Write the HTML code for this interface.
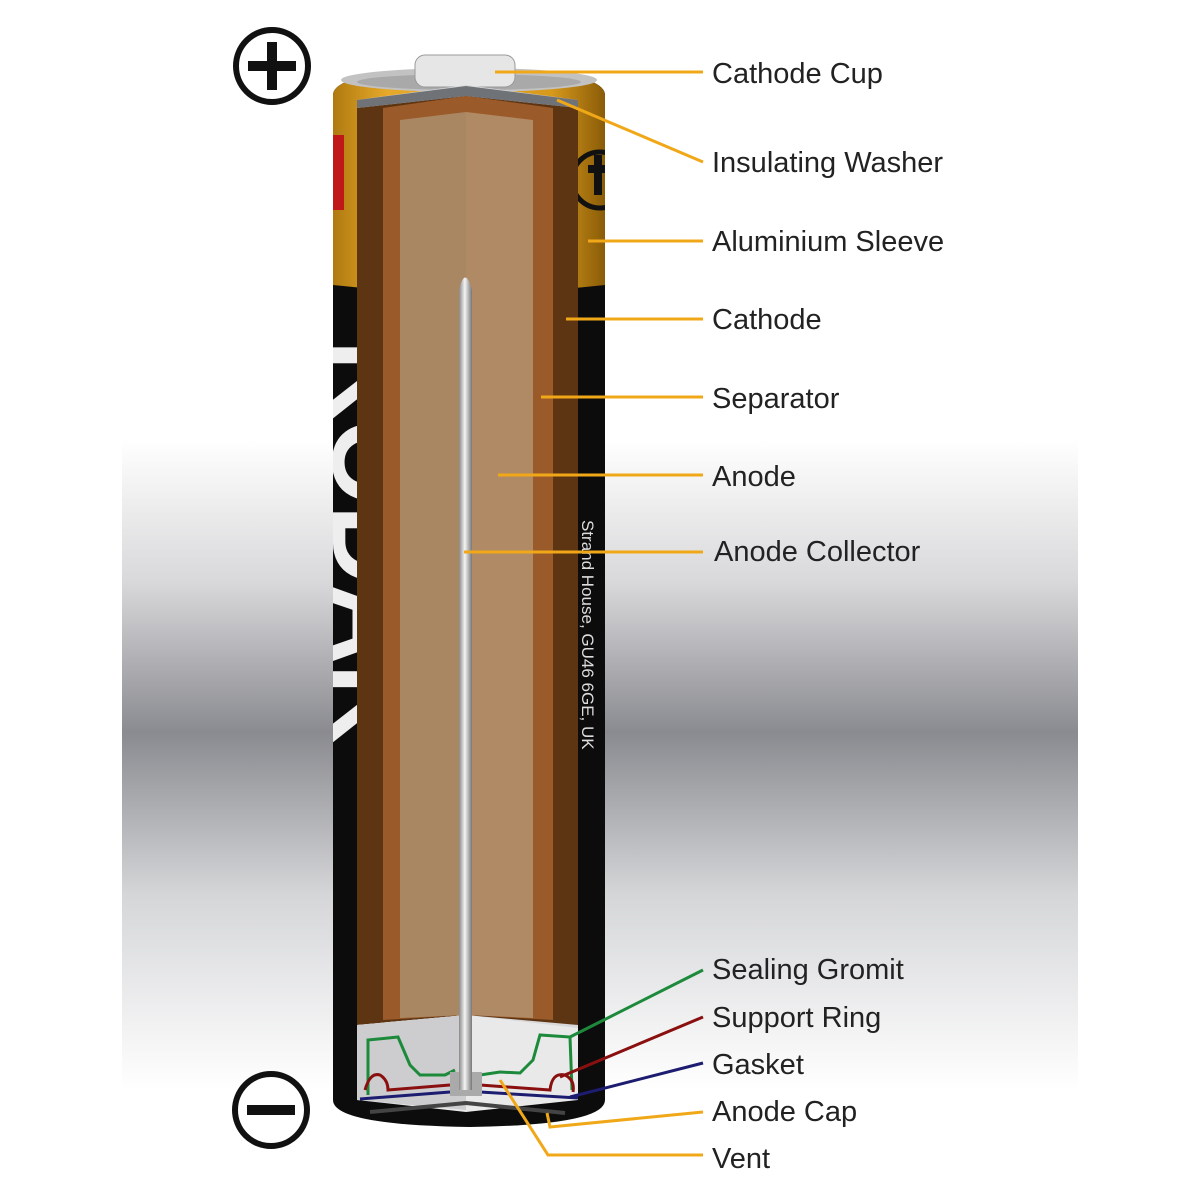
<!DOCTYPE html>
<html><head><style>
html,body{margin:0;padding:0;background:#fff}
svg{display:block}
text{font-family:"Liberation Sans",sans-serif;font-size:29px;fill:#222}
</style></head><body>
<svg width="1200" height="1200" viewBox="0 0 1200 1200" xmlns="http://www.w3.org/2000/svg">
<defs>
<linearGradient id="bg" x1="0" y1="0" x2="0" y2="1">
<stop offset="0" stop-color="#fff"/><stop offset="0.22" stop-color="#d8d8da"/><stop offset="0.45" stop-color="#8a8b90"/><stop offset="0.7" stop-color="#d5d6d8"/><stop offset="1" stop-color="#fff"/>
</linearGradient>
<linearGradient id="rod" x1="0" x2="1"><stop offset="0" stop-color="#888"/><stop offset="0.45" stop-color="#f4f4f4"/><stop offset="1" stop-color="#777"/></linearGradient>
<linearGradient id="gold" x1="0" x2="1"><stop offset="0" stop-color="#b07a10"/><stop offset="0.2" stop-color="#e6a92a"/><stop offset="0.8" stop-color="#d89a1c"/><stop offset="1" stop-color="#8a5c08"/></linearGradient>
<clipPath id="bat"><path d="M333 95 Q333 70 470 68 Q605 70 605 95 L605 1100 Q605 1125 470 1127 Q333 1125 333 1100 Z"/></clipPath>
</defs>
<rect x="122" y="440" width="956" height="650" fill="url(#bg)"/>
<path d="M333 95 Q333 70 470 68 Q605 70 605 95 L605 1100 Q605 1125 470 1127 Q333 1125 333 1100 Z" fill="#0c0c0c"/>
<g clip-path="url(#bat)">
<path d="M333 95 Q333 70 470 68 Q605 70 605 95 L605 285 Q470 300 333 285 Z" fill="url(#gold)"/>
<rect x="320" y="135" width="24" height="75" fill="#c01818"/>
<circle cx="600" cy="180" r="28" fill="none" stroke="#111" stroke-width="5"/>
<rect x="588" y="165" width="20" height="8" fill="#111"/><rect x="594" y="155" width="8" height="40" fill="#111"/>
<text transform="translate(582,520) rotate(90)" style="font-size:17px;fill:#ddd">Strand House, GU46 6GE, UK</text>
<text transform="translate(333,340) rotate(90)" style="font-size:110px;fill:#eee;font-weight:bold">KODAK</text>
</g>
<ellipse cx="469" cy="80" rx="128" ry="12" fill="#c2c2c2"/>
<ellipse cx="469" cy="82" rx="112" ry="8" fill="#a9a9a9"/>
<rect x="415" y="55" width="100" height="32" rx="10" fill="#e6e6e6" stroke="#999"/>
<!-- cutaway -->
<path d="M357 100 L466 85 L578 100 L578 1098 L466 1110 L357 1098 Z" fill="#d8d8da"/>
<path d="M357 108 L466 96 L578 108 L578 1025 L466 1015 L357 1025 Z" fill="#5e3512"/>
<path d="M383 108 L466 96 L553 108 L553 1020 L466 1015 L383 1020 Z" fill="#9b5a2a"/>
<path d="M400 120 L466 112 L466 1015 L400 1018 Z" fill="#a98763"/>
<path d="M466 112 L533 120 L533 1018 L466 1015 Z" fill="#b08a64"/>
<path d="M357 100 L466 86 L578 100 L578 108 L466 96 L357 108 Z" fill="#6f7277"/>
<path d="M357 1025 L466 1015 L578 1028 L578 1100 L466 1112 L357 1100 Z" fill="#e9e9ea"/>
<path d="M357 1025 L466 1015 L466 1110 L357 1100 Z" fill="#cdcdcf"/>
<path d="M368 1095 L368 1040 L398 1037 L410 1065 L420 1075 L445 1075 L455 1070" fill="none" stroke="#1c8a3a" stroke-width="3"/>
<path d="M480 1075 L500 1072 L520 1073 L533 1060 L540 1035 L570 1037 L572 1090" fill="none" stroke="#1c8a3a" stroke-width="3"/>
<path d="M365 1090 Q370 1072 380 1075 Q388 1080 388 1090 L450 1085 M480 1085 L550 1090 Q552 1072 565 1075 Q575 1080 573 1092" fill="none" stroke="#8a1010" stroke-width="3"/>
<path d="M360 1099 L450 1092 M480 1092 L578 1098" stroke="#1c1c70" stroke-width="3"/>
<path d="M370 1112 L466 1103 L565 1113" fill="none" stroke="#444" stroke-width="4"/>
<rect x="450" y="1072" width="32" height="24" fill="#aaa"/>
<path d="M459 1090 L459 290 Q465 265 472 290 L472 1090 Z" fill="url(#rod)"/>
<circle cx="272" cy="66" r="36" fill="#fff" stroke="#111" stroke-width="6"/>
<rect x="248" y="61" width="48" height="10" fill="#111"/><rect x="267" y="42" width="10" height="48" fill="#111"/>
<circle cx="271" cy="1110" r="36" fill="#fff" stroke="#111" stroke-width="6"/>
<rect x="247" y="1105" width="48" height="10" fill="#111"/>
<g stroke="#f0a818" stroke-width="3" fill="none">
<path d="M495 72 L703 72"/><path d="M557 100 L703 162"/><path d="M588 241 L703 241"/>
<path d="M566 319 L703 319"/><path d="M541 397 L703 397"/><path d="M498 475 L703 475"/>
<path d="M464 552 L703 552"/><path d="M547 1113 L550 1127 L703 1112"/><path d="M500 1080 L548 1155 L703 1155"/>
</g>
<path d="M570 1037 L703 970" stroke="#1c8a3a" stroke-width="3"/>
<path d="M560 1077 L703 1017" stroke="#8a1010" stroke-width="3"/>
<path d="M570 1097 L703 1063" stroke="#1c1c70" stroke-width="3"/>
<text x="712" y="83">Cathode Cup</text>
<text x="712" y="172">Insulating Washer</text>
<text x="712" y="251">Aluminium Sleeve</text>
<text x="712" y="329">Cathode</text>
<text x="712" y="408">Separator</text>
<text x="712" y="486">Anode</text>
<text x="714" y="561">Anode Collector</text>
<text x="712" y="979">Sealing Gromit</text>
<text x="712" y="1027">Support Ring</text>
<text x="712" y="1074">Gasket</text>
<text x="712" y="1121">Anode Cap</text>
<text x="712" y="1168">Vent</text>
</svg>
</body></html>
